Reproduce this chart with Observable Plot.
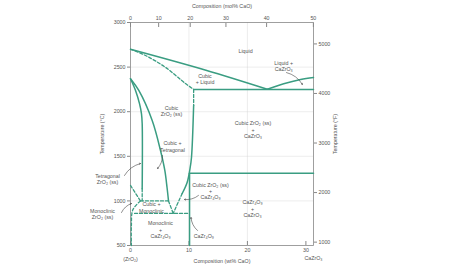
<!DOCTYPE html>
<html><head><meta charset="utf-8">
<script src="https://cdn.jsdelivr.net/npm/d3@7"></script>
<script src="https://cdn.jsdelivr.net/npm/@observablehq/plot@0.6"></script>
<style>body{margin:0;background:#fff}</style>
</head><body><div id="chart"></div>
<script>
// Axis ticks
const molTicks = [0, 10, 20, 30, 40, 50];
const wtTicks = [0, 10, 20, 30];
const tempTicksC = [500, 1000, 1500, 2000, 2500, 3000];
const tempTicksF = [1000, 2000, 3000, 4000, 5000];
const gridWt = [10, 20];
const gridC = [1000, 1500, 2000, 2500];

// Phase boundaries: [wt% CaO, °C]
const liquidusZr = [[0, 2700], [12.9, 2465], [23.4, 2252]];
const liquidusCz = [[23.4, 2252], [26.2, 2313], [29.1, 2360], [31.3, 2383]];
const solidus = [[0, 2700], [2.57, 2630], [6.0, 2496], [9.4, 2316], [10.8, 2250]];
const eutecticLine = [[10.8, 2250], [31.3, 2250]];
const cubicRightTop = [[10.8, 2250], [10.8, 2070]];
const cubicRight = [[10.8, 2070], [10.43, 1487], [10.18, 1363], [9.7, 1210], [8.84, 1083]];
const cubicRightLow = [[8.84, 1083], [7.3, 860]];
const cubicLeft = [[0, 2370], [1.42, 2238], [3.71, 1901], [5.13, 1565], [5.87, 1341], [6.25, 1150], [6.5, 1000]];
const cubicLeftLow = [[6.5, 1000], [7.3, 860]];
const tetraSolvus = [[0, 2370], [0.86, 2238], [1.54, 2090], [1.88, 1976], [2.0, 1864], [2.0, 1136]];
const tetraSolvusLow = [[2.0, 1136], [2.0, 1000]];
const tetraMono = [[0, 1173], [1.7, 1000]];
const monoSolvus = [[1.7, 1000], [0.4, 900], [0.15, 720], [0.15, 500]];
const eutectoidHigh = [[1.7, 1000], [6.5, 1000]];
const eutectoidLow = [[0.7, 860], [10.1, 860]];
const caZr4O9Line = [[10.1, 500], [10.1, 1310]];
const peritectoid = [[10.1, 1310], [31.3, 1310]];

const solidSets = {liquidusZr, liquidusCz, eutecticLine, cubicRight, cubicLeft, tetraSolvus, caZr4O9Line, peritectoid};
const dashedSets = {solidus, cubicRightTop, cubicRightLow, cubicLeftLow, tetraSolvusLow, tetraMono, monoSolvus, eutectoidHigh, eutectoidLow};

// Region labels
const labelText = ["Liquid", "Liquid +\nCaZrO₃", "Cubic\n+ Liquid", "Cubic\nZrO₂ (ss)", "Cubic +\nTetragonal",
  "Tetragonal\nZrO₂ (ss)", "Monoclinic\nZrO₂ (ss)", "Cubic +\nMonoclinic", "Monoclinic\n+\nCaZr₄O₉",
  "Cubic ZrO₂ (ss)\n+\nCaZr₄O₉", "CaZr₄O₉", "CaZr₄O₉\n+\nCaZrO₃", "Cubic ZrO₂ (ss)\n+\nCaZrO₃"];
const labelWt = [19.67, 26.2, 12.74, 7.0, 7.18, -3.93, -4.79, 3.59, 5.13, 13.68, 12.54, 20.87, 20.95];
const labelC = [2686, 2512, 2364, 2006, 1610, 1248, 855, 926, 679, 1111, 612, 915, 1797];

// Leader arrows
const arrowFrom = [[26.68, 2439], [5.47, 1509], [-1.03, 1285], [-1.54, 870], [11.63, 1061], [11.46, 668]];
const arrowTo = [[29.4, 2305], [4.62, 1363], [1.71, 1419], [0.17, 971], [9.24, 1016], [10.35, 814]];

// Axis titles
const titleTop = "Composition (mol% CaO)";
const titleBottom = "Composition (wt% CaO)";
const titleLeft = "Temperature (°C)";
const titleRight = "Temperature (°F)";
const endLeft = "(ZrO₂)";
const endRight = "CaZrO₃";

// Derived
const MW_CAO = 56.08, MW_ZRO2 = 123.22;
const molToWt = m => 100 * MW_CAO * m / (MW_CAO * m + MW_ZRO2 * (100 - m));
const fToC = f => (f - 32) * 5 / 9;
const molTickWt = molTicks.map(molToWt);
const molLabel = new Map(molTickWt.map((w, i) => [w, String(molTicks[i])]));
const fTickC = tempTicksF.map(fToC);
const fLabel = new Map(fTickC.map((c, i) => [c, String(tempTicksF[i])]));

const toRows = sets => Object.entries(sets).flatMap(([name, pts]) => pts.map(([w, t]) => ({name, w, t})));
const solidRows = toRows(solidSets);
const dashedRows = toRows(dashedSets);
const labels = labelText.map((text, i) => ({text, w: labelWt[i], t: labelC[i]}));
const arrows = arrowFrom.map((a, i) => ({x1: a[0], y1: a[1], x2: arrowTo[i][0], y2: arrowTo[i][1]}));

const GREEN = "#3a9d82";
const INK = "#555";

const chart = Plot.plot({
  width: 474, height: 266,
  marginLeft: 130, marginRight: 161, marginTop: 22, marginBottom: 21,
  style: {fontFamily: "Liberation Sans, Arial, sans-serif", fontSize: "5.3px", color: INK, background: "#fff"},
  x: {domain: [0, 31.3]},
  y: {domain: [500, 3000]},
  marks: [
    Plot.gridX(gridWt, {stroke: "#ccc", strokeOpacity: 0.6, strokeWidth: 0.6}),
    Plot.gridY(gridC, {stroke: "#ccc", strokeOpacity: 0.6, strokeWidth: 0.6}),
    Plot.frame({stroke: "#888", strokeWidth: 0.8}),
    Plot.axisX(wtTicks, {anchor: "bottom", tickSize: -4, tickPadding: 7, tickFormat: d => String(d), label: null, stroke: "#888"}),
    Plot.axisX(molTickWt, {anchor: "top", tickSize: -4, tickPadding: 7, tickFormat: d => molLabel.get(d), label: null, stroke: "#888"}),
    Plot.axisY(tempTicksC, {anchor: "left", tickSize: 3, tickPadding: 2, tickFormat: d => String(d), label: null, stroke: "#888"}),
    Plot.axisY(fTickC, {anchor: "right", tickSize: 3, tickPadding: 2, tickFormat: d => fLabel.get(d), label: null, stroke: "#888"}),
    Plot.text([titleTop], {frameAnchor: "top", dy: -18, textAnchor: "middle", fill: INK}),
    Plot.text([titleBottom], {frameAnchor: "bottom", dy: 17, textAnchor: "middle", fill: INK}),
    Plot.text([titleLeft], {frameAnchor: "left", dx: -28, rotate: -90, textAnchor: "middle", fill: INK}),
    Plot.text([titleRight], {frameAnchor: "right", dx: 22, rotate: -90, textAnchor: "middle", fill: INK}),
    Plot.text([endLeft], {frameAnchor: "bottom-left", dy: 15, textAnchor: "middle", fill: INK}),
    Plot.text([endRight], {frameAnchor: "bottom-right", dy: 14, textAnchor: "middle", fill: INK}),
    Plot.line(solidRows, {x: "w", y: "t", z: "name", stroke: GREEN, strokeWidth: 1.5, curve: "catmull-rom"}),
    Plot.line(dashedRows, {x: "w", y: "t", z: "name", stroke: GREEN, strokeWidth: 1.3, strokeDasharray: "3,2", curve: "catmull-rom"}),
    Plot.arrow(arrows, {x1: "x1", y1: "y1", x2: "x2", y2: "y2", bend: true, stroke: "#444", strokeWidth: 0.6, headLength: 3}),
    Plot.text(labels, {x: "w", y: "t", text: "text", fill: INK, lineHeight: 1.2})
  ]
});
document.getElementById("chart").appendChild(chart);
</script>
</body></html>
